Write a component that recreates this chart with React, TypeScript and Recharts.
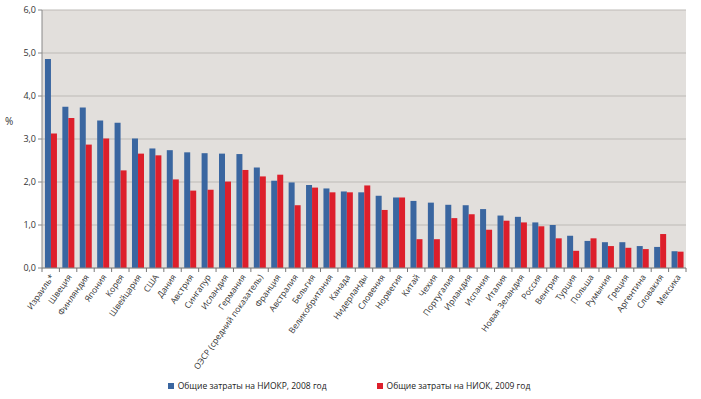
import React from "react"
import { Bar, BarChart, CartesianGrid, XAxis, YAxis, Legend } from "recharts"

const countries = [
  "Израиль*", "Швеция", "Финляндия", "Япония", "Корея", "Швейцария", "США", "Дания",
  "Австрия", "Сингапур", "Исландия", "Германия", "ОЭСР (средний показатель)", "Франция",
  "Австралия", "Бельгия", "Великобритания", "Канада", "Нидерланды", "Словения", "Норвегия",
  "Китай", "Чехия", "Португалия", "Ирландия", "Испания", "Италия", "Новая Зеландия",
  "Россия", "Венгрия", "Турция", "Польша", "Румыния", "Греция", "Аргентина", "Словакия",
  "Мексика",
]

const rd2008 = [
  4.86, 3.75, 3.73, 3.43, 3.38, 3.01, 2.78, 2.74, 2.69, 2.67, 2.66, 2.65, 2.34, 2.03,
  1.99, 1.93, 1.85, 1.78, 1.76, 1.68, 1.64, 1.56, 1.52, 1.47, 1.46, 1.37, 1.22, 1.19,
  1.06, 1.0, 0.75, 0.63, 0.6, 0.6, 0.51, 0.49, 0.39,
]

const rd2009 = [
  3.13, 3.49, 2.87, 3.01, 2.27, 2.66, 2.62, 2.06, 1.8, 1.82, 2.01, 2.28, 2.13, 2.17,
  1.46, 1.87, 1.76, 1.76, 1.92, 1.35, 1.64, 0.67, 0.67, 1.16, 1.25, 0.89, 1.1, 1.06,
  0.97, 0.69, 0.4, 0.69, 0.51, 0.47, 0.44, 0.79, 0.38,
]

const yTicks = [0, 1, 2, 3, 4, 5, 6]

const BLUE = "#3a66a0"
const RED = "#dd1f2b"
const FONT = "'Open Sans', 'Noto Sans', sans-serif"

const data = countries.map((name, i) => ({ name, a: rd2008[i], b: rd2009[i] }))

const PLOT_W = 644
const band = PLOT_W / countries.length

function CountryTick(props: any) {
  const { x, y, payload, index } = props
  return (
    <g>
      {index === 0 && (
        <line x1={x - band / 2} y1={y} x2={x - band / 2} y2={y + 4} stroke="#777" />
      )}
      <line x1={x + band / 2} y1={y} x2={x + band / 2} y2={y + 4} stroke="#777" />
      <text
        x={x + 4}
        y={y + 9}
        textAnchor="end"
        fontSize={8.5}
        fill="#333"
        fontFamily={FONT}
        transform={`rotate(-55, ${x + 4}, ${y + 9})`}
      >
        {payload.value}
      </text>
    </g>
  )
}

function LegendBox() {
  const items = [
    { label: "Общие затраты на НИОКР, 2008 год", color: BLUE },
    { label: "Общие затраты на НИОК, 2009 год", color: RED },
  ]
  return (
    <div style={{ display: "flex", justifyContent: "center", gap: 50, fontFamily: FONT, fontSize: 8.5, color: "#222" }}>
      {items.map((it) => (
        <div key={it.label} style={{ display: "flex", alignItems: "center" }}>
          <span style={{ width: 6, height: 6, background: it.color, marginRight: 4, display: "inline-block" }} />
          {it.label}
        </div>
      ))}
    </div>
  )
}

export default function App() {
  return (
    <div style={{ position: "absolute", left: 0, top: 0, width: 701, height: 399, background: "#fff" }}>
      <BarChart
        width={701}
        height={399}
        data={data}
        margin={{ top: 10, right: 15, left: 12, bottom: 8 }}
        barCategoryGap="17%"
        barGap={0}
      >
        <CartesianGrid vertical={false} stroke="#bdbab6" fill="#e2dfdc" />
        <XAxis
          dataKey="name"
          interval={0}
          tickLine={false}
          tickSize={0}
          tickMargin={0}
          axisLine={{ stroke: "#888" }}
          height={112}
          tick={<CountryTick />}
        />
        <YAxis
          width={30}
          domain={[0, 6]}
          ticks={yTicks}
          tickFormatter={(v: number) => v.toFixed(1).replace(".", ",")}
          axisLine={{ stroke: "#888" }}
          tickLine={{ stroke: "#888" }}
          tickSize={4}
          tick={{ fontSize: 9, fill: "#333", fontFamily: FONT }}
          label={{ value: "%", position: "insideLeft", dx: -12, dy: -18, fontSize: 10, fill: "#333", fontFamily: FONT }}
        />
        <Legend verticalAlign="bottom" content={<LegendBox />} />
        <Bar dataKey="a" fill={BLUE} isAnimationActive={false} />
        <Bar dataKey="b" fill={RED} isAnimationActive={false} />
      </BarChart>
    </div>
  )
}
